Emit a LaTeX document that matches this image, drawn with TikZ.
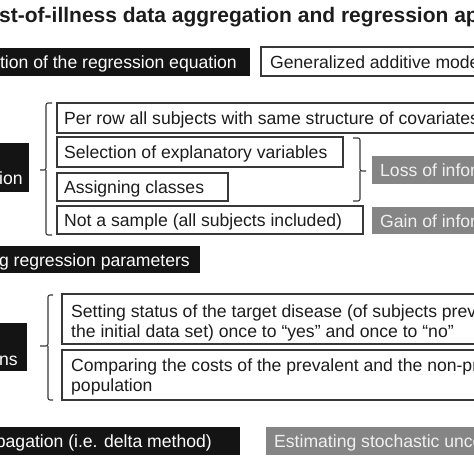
\documentclass[tikz,border=0pt]{standalone}
\usepackage{fontspec}
\setmainfont{Liberation Sans}
\definecolor{blk}{HTML}{141414}
\definecolor{gry}{HTML}{858585}
\definecolor{edge}{HTML}{383838}
\definecolor{ink}{HTML}{1C1C1C}
\definecolor{lite}{HTML}{F0F0F0}
\begin{document}
\begin{tikzpicture}[x=1pt,y=-1pt,
  blackbox/.style={fill=blk,draw=none},
  whitebox/.style={fill=white,draw=edge,line width=1.1pt},
  graybox/.style={fill=gry,draw=none},
  btxt/.style={inner sep=0pt,font=\fontsize{17.6}{20}\selectfont,text=white},
  wtxt/.style={inner sep=0pt,font=\fontsize{17.6}{20}\selectfont,text=ink,align=left},
  gtxt/.style={inner sep=0pt,font=\fontsize{17.6}{20}\selectfont,text=lite},
  brace/.style={draw=edge,line width=1.1pt,rounded corners=2pt}]
\useasboundingbox (0,0) rectangle (474,474);
\clip (0,0) rectangle (474,474);
\fill[white] (0,0) rectangle (474,474);
% title
\node[inner sep=0pt,anchor=base west,font=\fontsize{21}{24}\selectfont\bfseries,text=ink] (title) at (-1,22) {st-of-illness data aggregation and regression ap};
% row 1
\path[blackbox] (-5,48) rectangle (250,76);
\node[btxt,anchor=base east] (eq) at (237,68) {ation of the regression equation};
\path[whitebox] (261,47) rectangle (480,76);
\node[wtxt,anchor=base west] (gam) at (270,68) {Generalized additive mode};
% data aggregation
\path[blackbox] (-5,143) rectangle (29,192);
\node[btxt,anchor=base west] (agg) at (-1,184) {ion};
\path[whitebox] (57,103) rectangle (480,133);
\node[wtxt,anchor=base west] (row) at (64,124) {Per row all subjects with same structure of covariates};
\path[whitebox] (57,137) rectangle (343,167);
\node[wtxt,anchor=base west] (sel) at (64,158) {Selection of explanatory variables};
\path[whitebox] (57,173) rectangle (228,201);
\node[wtxt,anchor=base west] (cls) at (64,193) {Assigning classes};
\path[whitebox] (57,206) rectangle (363,234);
\node[wtxt,anchor=base west] (smp) at (64,226) {Not a sample (all subjects included)};
\path[graybox] (372,156) rectangle (480,184);
\node[gtxt,anchor=base west] (loss) at (380,176) {Loss of infor};
\path[graybox] (372,207) rectangle (480,234);
\node[gtxt,anchor=base west] (gain) at (380,227) {Gain of infor};
\draw[brace] (52,103) -- (46,103) -- (46,170) -- (40,170) (46,170) -- (46,235) -- (52,235);
\draw[brace] (353,138) -- (360,138) -- (360,171) -- (366,171) (360,171) -- (360,201) -- (353,201);
% parameters
\path[blackbox] (-5,246) rectangle (200,273);
\node[btxt,anchor=base east] (par) at (190,266) {g regression parameters};
% calculations
\path[blackbox] (-5,323) rectangle (27,371);
\node[btxt,anchor=base west] (calc) at (-1,365) {ns};
\path[whitebox] (62,294) rectangle (480,344);
\node[wtxt,anchor=base west] (set1) at (71,317) {Setting status of the target disease (of subjects preva};
\node[wtxt,anchor=base west] (set2) at (71,337) {the initial data set) once to “yes” and once to “no”};
\path[whitebox] (62,350) rectangle (480,400);
\node[wtxt,anchor=base west] (cmp1) at (71,371) {Comparing the costs of the prevalent and the non-pr};
\node[wtxt,anchor=base west] (cmp2) at (71,391) {population};
\draw[brace] (53,295) -- (48,295) -- (48,346) -- (40,346) (48,346) -- (48,400) -- (53,400);
% delta method
\path[blackbox] (-5,427) rectangle (240,455);
\node[btxt,anchor=base east] (dm) at (212,447) {pagation (i.e. delta method)};
\path[graybox] (266,427) rectangle (480,455);
\node[gtxt,anchor=base west] (unc) at (274,447) {Estimating stochastic unce};
\end{tikzpicture}
\end{document}
